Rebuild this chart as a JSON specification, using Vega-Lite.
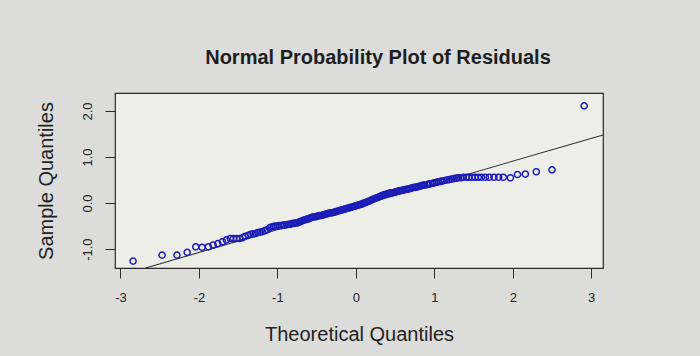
{
  "$schema": "https://vega.github.io/schema/vega-lite/v6.json",
  "width": 488,
  "height": 175,
  "autosize": "none",
  "padding": {"left": 115, "top": 93, "right": 97, "bottom": 88},
  "background": "#dcdddb",
  "title": {
    "text": "Normal Probability Plot of Residuals",
    "font": "Liberation Sans",
    "fontSize": 20,
    "fontWeight": "bold",
    "color": "#1e1e1e",
    "anchor": "middle",
    "offset": 25,
    "dx": 19
  },
  "config": {
    "view": {"fill": "#eceee7", "stroke": "#2a2a2a", "strokeWidth": 1.2},
    "font": "Liberation Sans",
    "axis": {
      "grid": false,
      "domain": false,
      "tickColor": "#2a2a2a",
      "tickSize": 10,
      "labelFont": "Liberation Sans",
      "labelFontSize": 13,
      "labelColor": "#222222",
      "titleFont": "Liberation Sans",
      "titleFontSize": 20,
      "titleFontWeight": "normal",
      "titleColor": "#222222"
    }
  },
  "datasets": {
    "pts": [
      {"q": -2.84, "s": -1.26}, {"q": -2.47, "s": -1.13}, {"q": -2.28, "s": -1.13}, {"q": -2.15, "s": -1.07},
      {"q": -2.04, "s": -0.95}, {"q": -1.96, "s": -0.96}, {"q": -1.88, "s": -0.95}, {"q": -1.82, "s": -0.91},
      {"q": -1.76, "s": -0.88}, {"q": -1.70, "s": -0.84}, {"q": -1.65, "s": -0.80}, {"q": -1.60, "s": -0.77},
      {"q": -1.56, "s": -0.77}, {"q": -1.52, "s": -0.77}, {"q": -1.48, "s": -0.77}, {"q": -1.44, "s": -0.75},
      {"q": -1.41, "s": -0.72}, {"q": -1.37, "s": -0.70}, {"q": -1.34, "s": -0.68}, {"q": -1.31, "s": -0.67},
      {"q": -1.28, "s": -0.66}, {"q": -1.25, "s": -0.64}, {"q": -1.22, "s": -0.63}, {"q": -1.19, "s": -0.62},
      {"q": -1.16, "s": -0.60}, {"q": -1.13, "s": -0.58}, {"q": -1.10, "s": -0.54}, {"q": -1.08, "s": -0.52},
      {"q": -1.05, "s": -0.51}, {"q": -1.03, "s": -0.50}, {"q": -1.00, "s": -0.50}, {"q": -0.98, "s": -0.49},
      {"q": -0.95, "s": -0.49}, {"q": -0.93, "s": -0.48}, {"q": -0.91, "s": -0.48}, {"q": -0.88, "s": -0.47},
      {"q": -0.86, "s": -0.46}, {"q": -0.84, "s": -0.46}, {"q": -0.82, "s": -0.45}, {"q": -0.80, "s": -0.44},
      {"q": -0.78, "s": -0.44}, {"q": -0.76, "s": -0.43}, {"q": -0.74, "s": -0.43}, {"q": -0.72, "s": -0.41},
      {"q": -0.70, "s": -0.40}, {"q": -0.68, "s": -0.38}, {"q": -0.66, "s": -0.37}, {"q": -0.64, "s": -0.36},
      {"q": -0.62, "s": -0.35}, {"q": -0.60, "s": -0.34}, {"q": -0.58, "s": -0.32}, {"q": -0.56, "s": -0.31},
      {"q": -0.54, "s": -0.30}, {"q": -0.52, "s": -0.30}, {"q": -0.50, "s": -0.29}, {"q": -0.48, "s": -0.28},
      {"q": -0.46, "s": -0.27}, {"q": -0.44, "s": -0.27}, {"q": -0.42, "s": -0.26}, {"q": -0.40, "s": -0.25},
      {"q": -0.38, "s": -0.24}, {"q": -0.36, "s": -0.23}, {"q": -0.34, "s": -0.22}, {"q": -0.32, "s": -0.21},
      {"q": -0.30, "s": -0.21}, {"q": -0.28, "s": -0.20}, {"q": -0.26, "s": -0.19}, {"q": -0.24, "s": -0.18},
      {"q": -0.22, "s": -0.17}, {"q": -0.20, "s": -0.16}, {"q": -0.18, "s": -0.15}, {"q": -0.16, "s": -0.14},
      {"q": -0.14, "s": -0.13}, {"q": -0.12, "s": -0.12}, {"q": -0.10, "s": -0.11}, {"q": -0.08, "s": -0.10},
      {"q": -0.06, "s": -0.09}, {"q": -0.04, "s": -0.08}, {"q": -0.02, "s": -0.07}, {"q": 0.00, "s": -0.06},
      {"q": 0.02, "s": -0.05}, {"q": 0.04, "s": -0.04}, {"q": 0.06, "s": -0.03}, {"q": 0.08, "s": -0.02},
      {"q": 0.10, "s": 0.00}, {"q": 0.12, "s": 0.01}, {"q": 0.14, "s": 0.02}, {"q": 0.16, "s": 0.04},
      {"q": 0.18, "s": 0.05}, {"q": 0.20, "s": 0.07}, {"q": 0.22, "s": 0.08}, {"q": 0.24, "s": 0.10},
      {"q": 0.26, "s": 0.11}, {"q": 0.28, "s": 0.12}, {"q": 0.30, "s": 0.14}, {"q": 0.32, "s": 0.15},
      {"q": 0.34, "s": 0.17}, {"q": 0.36, "s": 0.18}, {"q": 0.38, "s": 0.19}, {"q": 0.40, "s": 0.20},
      {"q": 0.42, "s": 0.21}, {"q": 0.44, "s": 0.22}, {"q": 0.46, "s": 0.22}, {"q": 0.48, "s": 0.23},
      {"q": 0.50, "s": 0.24}, {"q": 0.52, "s": 0.25}, {"q": 0.54, "s": 0.26}, {"q": 0.56, "s": 0.27},
      {"q": 0.58, "s": 0.27}, {"q": 0.60, "s": 0.28}, {"q": 0.62, "s": 0.29}, {"q": 0.64, "s": 0.30},
      {"q": 0.66, "s": 0.30}, {"q": 0.68, "s": 0.31}, {"q": 0.70, "s": 0.32}, {"q": 0.72, "s": 0.33},
      {"q": 0.74, "s": 0.34}, {"q": 0.76, "s": 0.34}, {"q": 0.78, "s": 0.35}, {"q": 0.80, "s": 0.36},
      {"q": 0.82, "s": 0.37}, {"q": 0.84, "s": 0.38}, {"q": 0.86, "s": 0.39}, {"q": 0.88, "s": 0.39},
      {"q": 0.91, "s": 0.40}, {"q": 0.93, "s": 0.41}, {"q": 0.95, "s": 0.42}, {"q": 0.98, "s": 0.43},
      {"q": 1.00, "s": 0.44}, {"q": 1.03, "s": 0.45}, {"q": 1.05, "s": 0.46}, {"q": 1.08, "s": 0.47},
      {"q": 1.10, "s": 0.48}, {"q": 1.13, "s": 0.49}, {"q": 1.16, "s": 0.50}, {"q": 1.19, "s": 0.51},
      {"q": 1.22, "s": 0.52}, {"q": 1.25, "s": 0.53}, {"q": 1.28, "s": 0.54}, {"q": 1.31, "s": 0.55},
      {"q": 1.34, "s": 0.55}, {"q": 1.37, "s": 0.56}, {"q": 1.41, "s": 0.56}, {"q": 1.44, "s": 0.56},
      {"q": 1.48, "s": 0.56}, {"q": 1.52, "s": 0.56}, {"q": 1.56, "s": 0.56}, {"q": 1.60, "s": 0.56},
      {"q": 1.65, "s": 0.56}, {"q": 1.70, "s": 0.56}, {"q": 1.76, "s": 0.56}, {"q": 1.82, "s": 0.56},
      {"q": 1.88, "s": 0.56}, {"q": 1.97, "s": 0.55}, {"q": 2.06, "s": 0.62}, {"q": 2.16, "s": 0.63},
      {"q": 2.30, "s": 0.68}, {"q": 2.50, "s": 0.72}, {"q": 2.91, "s": 2.11}
    ],
    "qqline": [
      {"q": -2.68, "s": -1.41},
      {"q": 3.15, "s": 1.48}
    ]
  },
  "layer": [
    {
      "data": {"name": "qqline"},
      "mark": {"type": "line", "color": "#333333", "strokeWidth": 1.1},
      "encoding": {
        "x": {"field": "q", "type": "quantitative"},
        "y": {"field": "s", "type": "quantitative"}
      }
    },
    {
      "data": {"name": "pts"},
      "mark": {"type": "point", "shape": "circle", "filled": false, "color": "#1c1cb8", "size": 38, "strokeWidth": 1.5, "opacity": 1},
      "encoding": {
        "x": {
          "field": "q",
          "type": "quantitative",
          "scale": {"domain": [-3.07, 3.15], "nice": false, "zero": false},
          "axis": {
            "title": "Theoretical Quantiles",
            "values": [-3, -2, -1, 0, 1, 2, 3],
            "labelExpr": "'' + datum.value",
            "labelPadding": 13,
            "titlePadding": 20
          }
        },
        "y": {
          "field": "s",
          "type": "quantitative",
          "scale": {"domain": [-1.41, 2.39], "nice": false, "zero": false},
          "axis": {
            "title": "Sample Quantiles",
            "values": [-1, -0.5, 0, 0.5, 1, 1.5, 2],
            "labelExpr": "datum.value % 1 == 0 ? replace(format(datum.value, '.1f'), '\u2212', '-') : ''",
            "labelAngle": -90,
            "labelAlign": "center",
            "labelBaseline": "bottom",
            "labelPadding": 11,
            "titlePadding": 25
          }
        }
      }
    }
  ]
}
